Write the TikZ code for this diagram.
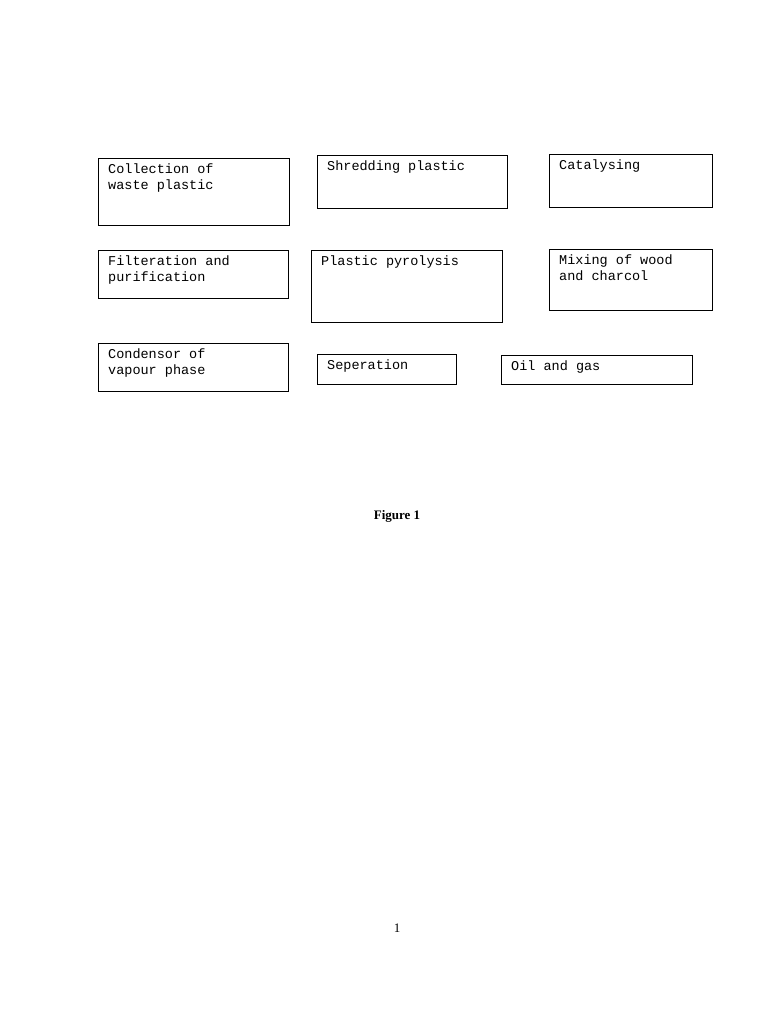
\documentclass[tikz,border=0pt]{standalone}
\usepackage{fontspec}
\setmainfont{Liberation Serif}
\newfontfamily\boxfont{Liberation Mono}
\begin{document}
\begin{tikzpicture}[x=1pt,y=-1pt,
  box/.style={draw,line width=0.8pt,anchor=north west,inner sep=0pt},
  txt/.style={anchor=north west,inner sep=0pt,align=left,font=\boxfont\fontsize{13.5}{16}\selectfont}]
\useasboundingbox (0,0) rectangle (768,1024);
\newcommand\bx[6]{%
  \node[box,minimum width=#4-#2,minimum height=#5-#3] (#1) at (#2,#3) {};
  \node[txt] (#1t) at ([xshift=10pt,yshift=-6pt]#1.north west) {#6};}
\bx{a}{98}{158}{289}{225}{Collection of\\waste plastic}
\bx{b}{317}{155}{507}{208}{Shredding plastic}
\bx{c}{549}{154}{712}{207}{Catalysing}
\bx{d}{98}{250}{288}{298}{Filteration and\\purification}
\bx{e}{311}{250}{502}{322}{Plastic pyrolysis}
\bx{f}{549}{249}{712}{310}{Mixing of wood\\and charcol}
\bx{g}{98}{343}{288}{391}{Condensor of\\vapour phase}
\bx{h}{317}{354}{456}{384}{Seperation}
\bx{i}{501}{355}{692}{384}{Oil and gas}
\node[font=\bfseries\fontsize{13}{15}\selectfont] (fig) at (397,516) {Figure 1};
\node[font=\fontsize{13}{15}\selectfont] (pg) at (397,928) {1};
\end{tikzpicture}
\end{document}
